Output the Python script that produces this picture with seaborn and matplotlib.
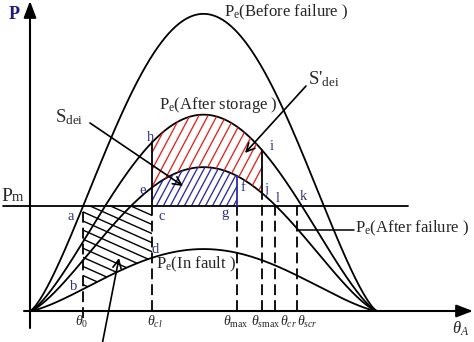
import numpy as np
import pandas as pd
import matplotlib
matplotlib.use("Agg")
import matplotlib.pyplot as plt
import seaborn as sns
from matplotlib.patches import Polygon

sns.set_style("white")
plt.rcParams["font.family"] = ["Liberation Serif", "DejaVu Serif"]
plt.rcParams["mathtext.fontset"] = "custom"
plt.rcParams["mathtext.rm"] = "Liberation Serif"
plt.rcParams["mathtext.it"] = "Liberation Serif:italic"
plt.rcParams["mathtext.bf"] = "Liberation Serif:bold"

# ---------------- data ----------------
PM = 1.0                                   # mechanical power line
curve_names = ["Before failure", "After storage", "After failure", "In fault"]
curve_pmax = [2.83, 1.87, 1.37, 0.59]      # peak of each power-angle curve (in Pm units)
SHAPE = 1.35                               # curve shape exponent of the drawn sin curves

angle_names = ["theta0", "thetacl", "thetamax", "thetasmax", "thetacr", "thetascr"]
angle_values = [0.480, 1.105, 1.874, 2.100, 2.218, 2.417]   # rad
angle_labels = [r"$\theta_0$", r"$\theta_{cl}$", r"$\theta_{\rm max}$",
                r"$\theta_{s{\rm max}}$", r"$\theta_{cr}$", r"$\theta_{scr}$"]
angle_label_dx = [-8, -5, -14, -11, 5, 0]                   # label offsets, px

NAVY = "#2e2e8a"
RED = "#e3241c"
BLUE = "#2b2ba3"

# ---------------- scale (pixel geometry of the layout) ----------------
PX_X = 347 / np.pi      # px per rad
PX_Y = 105.0            # px per Pm unit
X0, Y0 = 30, 311        # origin in pixels


def at(px, py):
    return (px - X0) / PX_X, (Y0 - py) / PX_Y


def pe(pmax, d):
    return pmax * np.clip(np.sin(d), 0, None) ** SHAPE


fig = plt.figure(figsize=(4.74, 3.42), dpi=100)
ax = fig.add_axes([0, 0, 1, 1])
ax.axis("off")
xl = ((0 - X0) / PX_X, (474 - X0) / PX_X)
yl = ((Y0 - 342) / PX_Y, Y0 / PX_Y)
ax.set_xlim(*xl)
ax.set_ylim(*yl)
ax.set_autoscale_on(False)

delta = np.linspace(0, np.pi, 500)
df = pd.concat([pd.DataFrame({"delta": delta, "P": pe(pm, delta), "curve": n})
                for n, pm in zip(curve_names, curve_pmax)])
for n in curve_names:
    sns.lineplot(data=df[df.curve == n], x="delta", y="P", color="black",
                 lw=1.3, ax=ax, legend=False, sort=False, estimator=None)
ax.set_xlim(*xl)
ax.set_ylim(*yl)
ax.axis("off")

P = dict(zip(curve_names, curve_pmax))
A = dict(zip(angle_names, angle_values))


def hatch_region(xs, ys, angle_deg, spacing, color, lw=0.9):
    patch = Polygon(np.column_stack([xs, ys]), closed=True, fc="none", ec="none")
    ax.add_patch(patch)
    px, py = xs * PX_X, ys * PX_Y
    a = np.deg2rad(angle_deg)
    dv = np.array([np.cos(a), np.sin(a)])
    nv = np.array([-np.sin(a), np.cos(a)])
    proj = px * nv[0] + py * nv[1]
    t = np.array([-3000.0, 3000.0])
    for c in np.arange(proj.min() + spacing / 2, proj.max(), spacing):
        lx = (c * nv[0] + t * dv[0]) / PX_X
        ly = (c * nv[1] + t * dv[1]) / PX_Y
        ln, = ax.plot(lx, ly, color=color, lw=lw, solid_capstyle="butt")
        ln.set_clip_path(patch)


# black region: between Pm and in-fault curve, theta0..thetacl
d1 = np.linspace(A["theta0"], A["thetacl"], 100)
hatch_region(np.concatenate([d1, d1[::-1]]),
             np.concatenate([np.full_like(d1, PM), pe(P["In fault"], d1[::-1])]),
             -24, 8.3, "black", 1.0)
# blue region: between Pm and after-failure curve, thetacl..thetamax
d2 = np.linspace(A["thetacl"], A["thetamax"], 100)
hatch_region(np.concatenate([d2, d2[::-1]]),
             np.concatenate([np.full_like(d2, PM), pe(P["After failure"], d2[::-1])]),
             62, 6.2, BLUE, 0.95)
# red region: between after-failure and after-storage curves, thetacl..thetasmax
d3 = np.linspace(A["thetacl"], A["thetasmax"], 100)
hatch_region(np.concatenate([d3, d3[::-1]]),
             np.concatenate([pe(P["After failure"], d3), pe(P["After storage"], d3[::-1])]),
             62, 8.0, RED, 0.95)

# Pm line
ax.plot([at(3, 0)[0], at(408, 0)[0]], [PM, PM], color="black", lw=1.3)

# axes with arrows
ax.annotate("", xy=at(473, Y0), xytext=at(24, Y0),
            arrowprops=dict(arrowstyle="-|>,head_length=1.0,head_width=0.38",
                            lw=1.5, color="black", shrinkA=0, shrinkB=0))
ax.annotate("", xy=at(X0, 1), xytext=at(X0, 328),
            arrowprops=dict(arrowstyle="-|>,head_length=1.0,head_width=0.38",
                            lw=1.5, color="black", shrinkA=0, shrinkB=0))

DASH = (0, (6, 2.8))
fa = lambda d: pe(P["After failure"], d)
fs = lambda d: pe(P["After storage"], d)
ff = lambda d: pe(P["In fault"], d)

# vertical guide lines
ax.plot([A["theta0"]] * 2, [-0.07, PM], color="black", lw=1.3, ls=DASH)
ax.plot([A["thetacl"]] * 2, [0, PM], color="black", lw=1.3, ls=DASH)
ax.plot([A["thetacl"]] * 2, [PM, fs(A["thetacl"])], color="black", lw=1.3)
ax.plot([A["thetamax"]] * 2, [0, PM], color="black", lw=1.3, ls=DASH)
ax.plot([A["thetamax"]] * 2, [PM, fa(A["thetamax"])], color=BLUE, lw=1.3)
ax.plot([A["thetasmax"]] * 2, [0, fa(A["thetasmax"])], color="black", lw=1.3, ls=DASH)
ax.plot([A["thetasmax"]] * 2, [fa(A["thetasmax"]), fs(A["thetasmax"])], color="black", lw=1.3)
ax.plot([A["thetacr"]] * 2, [0, PM], color="black", lw=1.3, ls=DASH)
ax.plot([A["thetascr"]] * 2, [0, PM], color="black", lw=1.3, ls=DASH)

# theta tick labels
for v, lab, dx in zip(angle_values, angle_labels, angle_label_dx):
    x = v + dx / PX_X
    ax.text(x, at(0, 326)[1], lab, fontsize=10, ha="left", va="baseline")

# point letters
pts = {
    "a": ((A["theta0"], PM), (-12, 10)),
    "b": ((A["theta0"], ff(A["theta0"])), (-9, -3)),
    "c": ((A["thetacl"], PM), (10, 10)),
    "d": ((A["thetacl"], ff(A["thetacl"])), (3, -8)),
    "e": ((A["thetacl"], fa(A["thetacl"])), (-9, 3)),
    "h": ((A["thetacl"], fs(A["thetacl"])), (-2, -5)),
    "f": ((A["thetamax"], fa(A["thetamax"])), (6, 12)),
    "g": ((A["thetamax"], PM), (-12, 7)),
    "i": ((A["thetasmax"], fs(A["thetasmax"])), (10, -4)),
    "j": ((A["thetasmax"], fa(A["thetasmax"])), (4, -4)),
    "l": ((A["thetacr"], PM), (3, -8)),
    "k": ((A["thetascr"], PM), (6, -9)),
}
for name, ((x, y), (dx, dy)) in pts.items():
    ax.text(x + dx / PX_X, y - dy / PX_Y, name, color=NAVY, fontsize=10.5,
            ha="center", va="center")

# axis titles
ax.text(*at(14, 19), "P", color="#1a1a80", fontsize=13, fontweight="bold",
        ha="center", va="baseline")
ax.text(*at(1, 201), "P", fontsize=14, ha="left", va="baseline")
ax.text(*at(12, 201), "m", fontsize=10.5, ha="left", va="baseline")
ax.text(*at(452, 334), r"$\theta_A$", fontsize=12, ha="left", va="baseline")

# curve labels
ax.text(*at(224, 12), r"P$_{\rm e}$(Before failure )", fontsize=12, ha="left", va="center")
ax.text(*at(159, 105), r"P$_{\rm e}$(After storage )", fontsize=12, ha="left", va="center")
ax.text(*at(156, 264), r"P$_{\rm e}$(In fault )", fontsize=12, ha="left", va="center")
ax.text(*at(355, 228), r"P$_{\rm e}$(After failure )", fontsize=12, ha="left", va="center")
ax.plot([A["thetascr"], at(354, 0)[0]], [at(0, 230)[1]] * 2, color="black", lw=1.1)

ax.text(*at(55, 117), r"S$_{\rm dei}$", fontsize=13.5, ha="left", va="center")
ax.text(*at(308, 79), r"S'$_{\rm dei}$", fontsize=13.5, ha="left", va="center")

arrow = dict(arrowstyle="->,head_length=0.6,head_width=0.3", lw=1.2,
             color="black", shrinkA=0, shrinkB=0)
ax.annotate("", xy=at(183, 186), xytext=at(90, 123), arrowprops=arrow)
ax.annotate("", xy=at(245, 153), xytext=at(306, 86), arrowprops=arrow)
ax.annotate("", xy=at(119, 258), xytext=at(102, 345), arrowprops=arrow)

fig.savefig("out.png", dpi=100)
